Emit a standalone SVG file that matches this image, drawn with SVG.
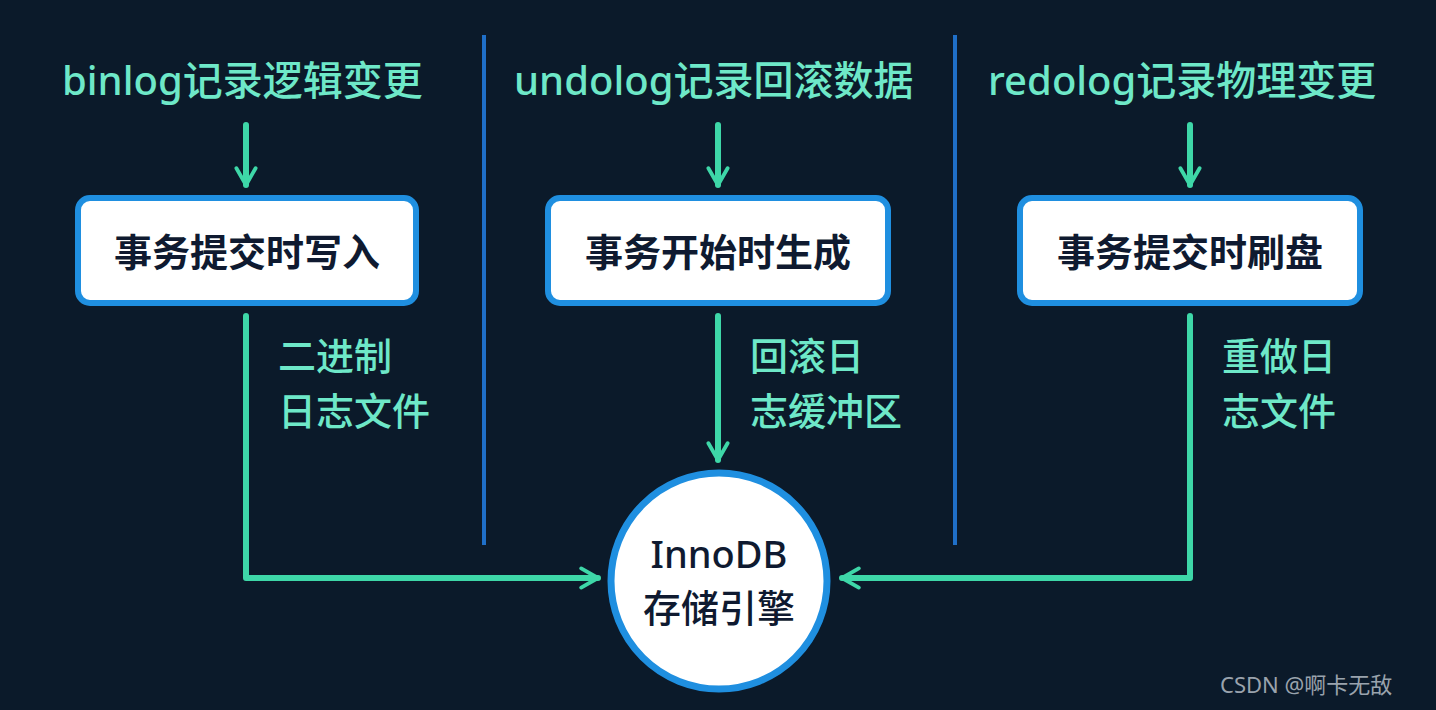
<svg xmlns="http://www.w3.org/2000/svg" width="1436" height="710" viewBox="0 0 1436 710">
<defs>
<style>
.hdr{font-family:"Noto Sans","Noto Sans CJK SC",sans-serif;font-size:40px;fill:#6ee8c8;font-weight:500}
.lbl{font-family:"Noto Sans CJK SC",sans-serif;font-size:38px;fill:#6ee8c8;font-weight:500}
.box{fill:#ffffff;stroke:#1f8fe0;stroke-width:6}
.bt{font-family:"Noto Sans CJK SC",sans-serif;font-size:38px;fill:#0f1a30;font-weight:700;text-anchor:middle}
.ln{fill:none;stroke:#3ed7a8;stroke-width:6;stroke-linecap:round;stroke-linejoin:round}
.div{stroke:#1f6fc8;stroke-width:4}
</style>
<marker id="ah" viewBox="0 0 10 10" refX="8" refY="5" markerWidth="4" markerHeight="4" orient="auto" markerUnits="strokeWidth">
<path d="M1,1 L8,5 L1,9" fill="none" stroke="#3ed7a8" stroke-width="1.6" stroke-linecap="round" stroke-linejoin="round"/>
</marker>
</defs>
<rect width="1436" height="710" fill="#0b1a2a"/>
<g id="dividers">
<line class="div" x1="484" y1="35" x2="484" y2="545"/>
<line class="div" x1="955" y1="35" x2="955" y2="545"/>
</g>
<g id="connectors">
<path class="ln" marker-end="url(#ah)" d="M246,125 V185"/>
<path class="ln" marker-end="url(#ah)" d="M718,125 V185"/>
<path class="ln" marker-end="url(#ah)" d="M1190,125 V185"/>
<path class="ln" marker-end="url(#ah)" d="M246,316 V578 H598"/>
<path class="ln" marker-end="url(#ah)" d="M718,316 V460"/>
<path class="ln" marker-end="url(#ah)" d="M1190,316 V578 H842"/>
</g>
<g id="headers">
<text class="hdr" x="62" y="95">binlog记录逻辑变更</text>
<text class="hdr" x="514" y="95">undolog记录回滚数据</text>
<text class="hdr" x="988" y="95">redolog记录物理变更</text>
</g>
<g id="n1"><rect class="box" x="78" y="198" width="338" height="105" rx="12"/><text class="bt" x="247" y="266">事务提交时写入</text></g>
<g id="n2"><rect class="box" x="548" y="198" width="340" height="105" rx="12"/><text class="bt" x="718" y="266">事务开始时生成</text></g>
<g id="n3"><rect class="box" x="1020" y="198" width="340" height="105" rx="12"/><text class="bt" x="1190" y="266">事务提交时刷盘</text></g>
<g id="labels">
<text class="lbl" x="278" y="370">二进制</text><text class="lbl" x="278" y="425">日志文件</text>
<text class="lbl" x="750" y="370">回滚日</text><text class="lbl" x="750" y="425">志缓冲区</text>
<text class="lbl" x="1222" y="370">重做日</text><text class="lbl" x="1222" y="425">志文件</text>
</g>
<g id="innodb">
<circle cx="719" cy="581" r="108" fill="#ffffff" stroke="#1f8fe0" stroke-width="7"/>
<text class="bt" x="719" y="568" style="font-family:'Noto Sans','Noto Sans CJK SC',sans-serif;font-weight:500">InnoDB</text>
<text class="bt" x="719" y="622" style="font-weight:500">存储引擎</text>
</g>
<text x="1220" y="693" style="font-family:'Noto Sans','Noto Sans CJK SC',sans-serif;font-size:22px;fill:#9aa3ad">CSDN @啊卡无敌</text>
</svg>
